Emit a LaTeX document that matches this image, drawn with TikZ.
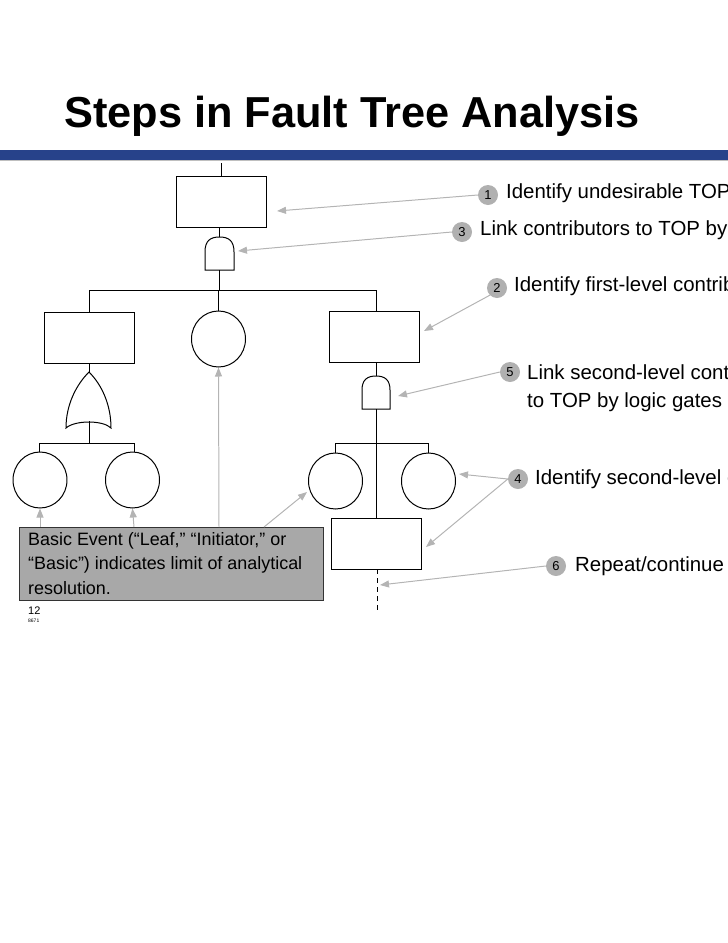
\documentclass[tikz,border=0pt]{standalone}
\usepackage{fontspec}
\setmainfont{Liberation Sans}
\usetikzlibrary{arrows.meta,shapes.geometric}
\definecolor{bar}{HTML}{27428A}
\definecolor{badge}{HTML}{B0B0B0}
\definecolor{arr}{HTML}{B4B4B4}
\definecolor{boxfill}{HTML}{A8A8A8}
\begin{document}
\begin{tikzpicture}[x=1bp,y=-1bp,
  ev/.style={draw,line width=1pt,minimum width=90bp,minimum height=51bp,inner sep=0pt},
  circ/.style={draw,line width=1pt,ellipse,minimum width=54bp,minimum height=56bp,inner sep=0pt},
  ln/.style={line width=1pt},
  pt/.style={draw=arr,line width=1pt,-{Triangle[length=9bp,width=7bp]}},
  bdg/.style={circle,fill=badge,minimum size=20bp,inner sep=0pt,font=\fontsize{13}{13}\selectfont},
  stp/.style={anchor=west,inner sep=0pt,font=\fontsize{20.5}{28}\selectfont},
]
\useasboundingbox (0,0) rectangle (728,943);
\clip (0,0) rectangle (728,943);
\node[anchor=base west,inner sep=0pt,font=\fontsize{43.5}{44}\selectfont\bfseries] (title) at (64,127) {Steps in Fault Tree Analysis};
\fill[bar] (0,150) rectangle (728,160);
\fill[black!25] (0,160) rectangle (728,161);

% top
\node[ev] (top) at (221,201.5) {};
\coordinate (t0) at (221,163);
\draw[ln] (t0) -- (top.north);
\draw[ln] (205,270) -- (205,252) .. controls (205,241) and (210,237) .. (219.5,237) .. controls (229,237) and (234,241) .. (234,252) -- (234,270) -- cycle;
\draw[ln] (219.5,227) -- (219.5,237);
\draw[ln] (219.5,270) -- (219.5,290);
\draw[ln] (89,312) -- (89,290) -- (376,290) -- (376,311);
\draw[ln] (218,290) -- (218,311);

\node[ev] (L) at (89.5,337.5) {};
\node[circ] (M) at (218.5,339) {};
\node[ev] (R) at (374,336.5) {};

% OR gate
\draw[ln] (89,372) .. controls (102,385) and (111,405) .. (111,428) .. controls (103,420) and (75,420) .. (66,428) .. controls (66,405) and (76,385) .. (89,372) -- cycle;
\draw[ln] (89,363) -- (89,372);
\draw[ln] (89,421) -- (89,443);
\draw[ln] (39,452) -- (39,443) -- (134,443) -- (134,452);
\node[circ] (c1) at (40,480) {};
\node[circ] (c2) at (132.5,480) {};

% right AND
\draw[ln] (362,409) -- (362,390) .. controls (362,380) and (367,376) .. (376,376) .. controls (385,376) and (390,380) .. (390,390) -- (390,409) -- cycle;
\draw[ln] (376,362) -- (376,376);
\draw[ln] (376,409) -- (376,518);
\draw[ln] (335,453) -- (335,443) -- (428,443) -- (428,453);
\node[circ] (c3) at (335.5,481) {};
\node[circ] (c4) at (428.5,481) {};
\node[ev] (B) at (376.5,543.5) {};
\coordinate (d0) at (377,569);
\coordinate (d1) at (377,614);
\draw[ln,dash pattern=on 5bp off 4bp] (d0) -- (d1);

% basic event box
\node[draw=black!80,line width=1pt,fill=boxfill,minimum width=304bp,minimum height=73bp,inner sep=0pt] (be) at (171,563.5) {};
\node[anchor=north west,inner sep=0pt,align=left,font=\fontsize{18}{24.5}\selectfont] (bet) at (28,532) {Basic Event (“Leaf,” “Initiator,” or\\“Basic”) indicates limit of analytical\\resolution.};
\node[anchor=base west,inner sep=0pt,font=\fontsize{11}{11}\selectfont] (pg) at (28,614) {12};
\node[anchor=base west,inner sep=0pt,font=\fontsize{5}{5}\selectfont] (pn) at (28,622) {8671};

\draw[pt] (40,527) -- (c1.south);
\draw[pt] (134,527) -- (c2.south);
\draw[pt] (219,527) -- (M.south);
\draw[pt] (264,527) -- (307,492);

% steps
\node[bdg] (b1) at (488,195) {1};
\node[stp] (s1) at (506,193) {Identify undesirable TOP event};
\node[bdg] (b3) at (462,232) {3};
\node[stp] (s3) at (480,230) {Link contributors to TOP by logic gates};
\node[bdg] (b2) at (497,288) {2};
\node[stp] (s2) at (514,286) {Identify first-level contributors};
\node[bdg] (b5) at (510,372) {5};
\node[stp,align=left] (s5) at (527,388) {Link second-level contributors\\to TOP by logic gates};
\node[bdg] (b4) at (518,479) {4};
\node[stp] (s4) at (535,479) {Identify second-level contributors};
\node[bdg] (b6) at (556,566) {6};
\node[stp] (s6) at (575,566) {Repeat/continue};

\draw[pt] (b1.west) -- (277,211);
\draw[pt] (b3.west) -- (238,251);
\draw[pt] (b2.south west) -- (424,331);
\draw[pt] (b5.west) -- (398,396);
\draw[pt] (b4.west) -- (459,474);
\draw[pt] (b4.west) -- (426,547);
\draw[pt] (b6.west) -- (380,585);
\end{tikzpicture}
\end{document}
